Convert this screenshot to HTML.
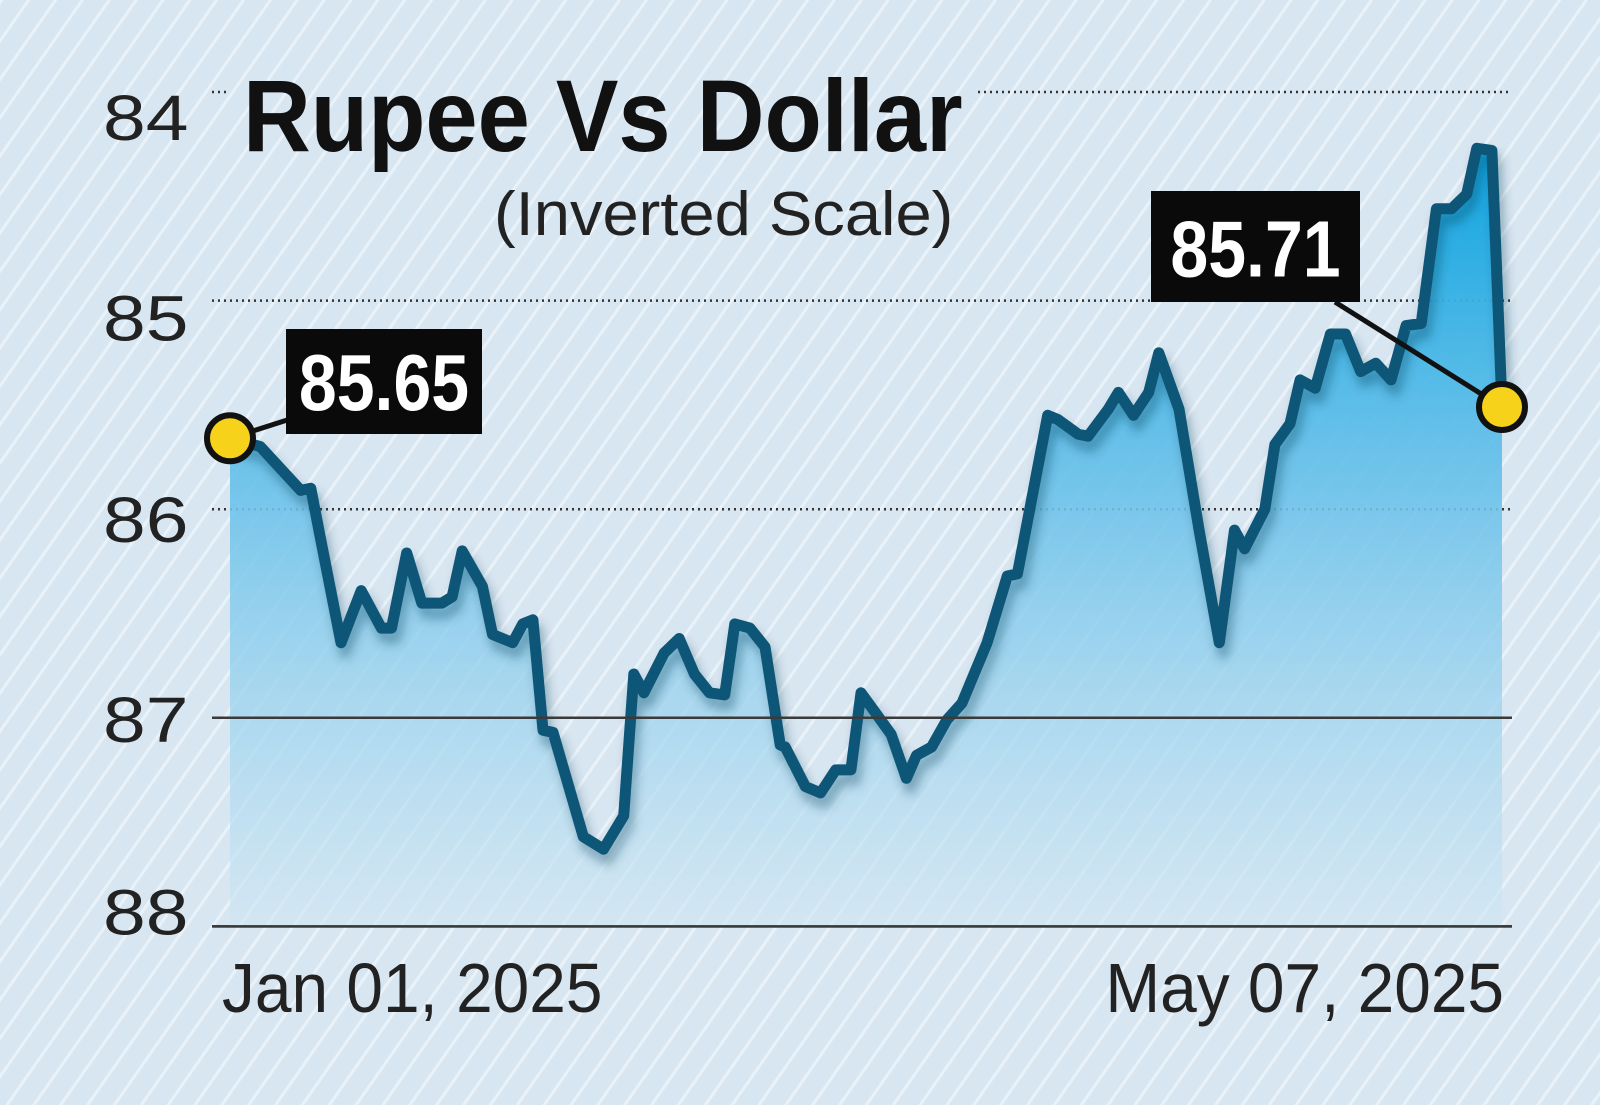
<!DOCTYPE html>
<html><head><meta charset="utf-8"><style>
html,body{margin:0;padding:0;width:1600px;height:1105px;overflow:hidden;background:#dce9f3}
svg{display:block}
text{font-family:"Liberation Sans",sans-serif}
</style></head><body>
<svg id="chart" width="1600" height="1105" viewBox="0 0 1600 1105" xmlns="http://www.w3.org/2000/svg">
<defs>
<pattern id="stripes" width="22" height="22" patternUnits="userSpaceOnUse" patternTransform="rotate(35)">
<rect width="22" height="22" fill="#d8e6f1"/>
<rect width="3" height="22" fill="#e9f2f8"/>
</pattern>
<linearGradient id="fillg" x1="0" y1="0" x2="0" y2="1">
<stop offset="0" stop-color="#0ea4e0"/>
<stop offset="0.45" stop-color="#6cc2ea" stop-opacity="0.9"/>
<stop offset="1" stop-color="#cfe6f3" stop-opacity="0.6"/>
</linearGradient>
<filter id="sh" x="-5%" y="-5%" width="110%" height="120%"><feGaussianBlur stdDeviation="5"/></filter>
</defs>
<rect width="1600" height="1105" fill="url(#stripes)"/>
<g id="grid"></g>
<g id="plot"></g>
<text x="0" y="0" transform="translate(243,151) scale(0.92,1)" font-size="102" font-weight="bold" fill="#111">Rupee Vs Dollar</text>
<text x="0" y="0" transform="translate(494,235) scale(1.05,1)" font-size="62" fill="#222">(Inverted Scale)</text>
</svg>
<script>
const days=[0,3,7,8,9,11,13,15,16,17.5,19,21,22,23,25,26,28,29,30,31,32,35,37,39,40,41,43,44.5,46,47.5,49,50,51.5,53,54.5,55,57,58.5,60,61.5,62.5,64,65.5,67,68,69.5,71,72.5,75,77,78,81,82,84,85,87,88,89.5,91,92,94,96,98,99.5,100.5,102.5,103.5,105,106,107.5,109,110.5,112,113.5,115,116.5,118,119.5,121,122.5,123.5,125,126];
const rates=[85.66,85.70,85.91,85.90,86.15,86.64,86.39,86.57,86.57,86.21,86.45,86.45,86.42,86.20,86.37,86.60,86.64,86.55,86.53,87.06,87.07,87.57,87.63,87.47,86.79,86.88,86.69,86.62,86.79,86.88,86.89,86.55,86.57,86.66,87.13,87.14,87.33,87.36,87.25,87.25,86.88,86.98,87.08,87.29,87.18,87.14,87.01,86.93,86.64,86.32,86.31,85.55,85.57,85.64,85.65,85.52,85.44,85.55,85.44,85.25,85.52,86.10,86.64,86.10,86.19,86.00,85.69,85.59,85.38,85.42,85.16,85.16,85.34,85.30,85.38,85.12,85.11,84.56,84.56,84.49,84.27,84.28,85.51];
const yTicks=[84,85,86,87,88];
const xLabels=["Jan 01, 2025","May 07, 2025"];
const calloutLabels=["85.65","85.71"];
const NS="http://www.w3.org/2000/svg";
const X0=230,X1=1502,Y0=92,UNIT=208.6;
function xs(d){return X0+d/126*(X1-X0);}
function ys(v){return Y0+(v-84)*UNIT;}
function mk(t,a,p){const e=document.createElementNS(NS,t);for(const k in a)e.setAttribute(k,a[k]);p.appendChild(e);return e;}
const grid=document.getElementById('grid'),plot=document.getElementById('plot');
const labelOff=[26,18,11,2,-14];
yTicks.forEach((t,i)=>{
  const dotted=t<87;
  const segs=(t==84)?[[212,230],[978,1512]]:[[212,1512]];
  segs.forEach(s=>{
    const ln=mk('line',{x1:s[0],x2:s[1],y1:ys(t),y2:ys(t),stroke:'#333','stroke-width':2.5,'stroke-dasharray':dotted?'2 4':'none'},grid);
    
    
  });
  const tx=mk('text',{x:0,y:0,transform:'translate(103,'+(ys(t)+labelOff[i]+22)+') scale(1.2,1)','font-size':64,fill:'#222'},grid);
  tx.textContent=t;
  
  
});
let d='';days.forEach((dd,i)=>{d+=(i?'L':'M')+xs(dd).toFixed(1)+','+ys(rates[i]).toFixed(1);});
const area=mk('path',{d:d+'L'+xs(days[days.length-1])+','+ys(88)+'L'+xs(days[0])+','+ys(88)+'Z',fill:'url(#fillg)'},plot);


const sh=mk('path',{d:d,fill:'none',stroke:'#0b3a52','stroke-width':12,'stroke-opacity':0.35,transform:'translate(4,10)',filter:'url(#sh)','stroke-linejoin':'round'},plot);


const line=mk('path',{d:d,fill:'none',stroke:'#0e5677','stroke-width':11,'stroke-linejoin':'round','stroke-linecap':'round'},plot);


[87,88].forEach(t=>{const l=mk('line',{x1:212,x2:1512,y1:ys(t),y2:ys(t),stroke:'#3a3a3a','stroke-width':2.5},plot);

});
const pts=[[days[0],rates[0],286,329,196,105],[days[days.length-1],rates[rates.length-1],1151,191,209,111]];
pts.forEach((p,i)=>{
  const cx=xs(p[0]),cy=ys(p[1]);
  const g=mk('g',{},plot);
  
  
  const lx=i==0?p[2]+20:p[2]+p[4]-25, ly=i==0?p[3]+p[5]-20:p[3]+p[5];
  mk('line',{x1:cx,y1:cy,x2:lx,y2:ly,stroke:'#111','stroke-width':5},g);
  mk('rect',{x:p[2],y:p[3],width:p[4],height:p[5],fill:'#0a0a0a'},g);
  const t=mk('text',{x:0,y:0,transform:'translate('+(p[2]+p[4]/2)+','+(p[3]+p[5]*0.77)+') scale(0.85,1)','text-anchor':'middle','font-size':80,'font-weight':'bold',fill:'#fff'},g);
  t.textContent=calloutLabels[i];
  const c=mk('circle',{cx:cx,cy:cy,r:23,fill:'#f6d31a',stroke:'#111','stroke-width':6},g);
  
  
});
xLabels.forEach((s,i)=>{
  const t=mk('text',{x:0,y:0,transform:'translate('+(i?1504:222)+',1012) scale(0.94,1)','text-anchor':i?'end':'start','font-size':70,fill:'#222'},grid);
  t.textContent=s;
  
  
});
</script>
</body></html>
